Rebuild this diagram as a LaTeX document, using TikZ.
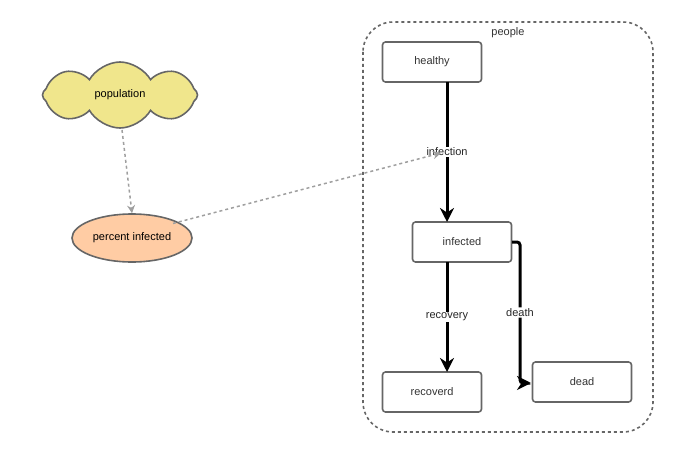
\documentclass[tikz,border=0pt]{standalone}
\usepackage{fontspec}
\setmainfont{Liberation Sans}
\usetikzlibrary{shapes.symbols,shapes.geometric,arrows.meta}
\definecolor{edge}{HTML}{666666}
\begin{document}
\begin{tikzpicture}[x=1pt,y=-1pt,font=\fontsize{11}{13}\selectfont,
  box/.style={draw=edge,rounded corners=3pt,line width=1.6pt,minimum width=99pt,minimum height=40pt,inner sep=0pt,text=black!80},
  flow/.style={line width=3pt,-{Stealth[length=14pt,width=14pt]}},
  lbl/.style={fill=white,inner sep=1pt,text=black!85},
  link/.style={dashed,gray!75,line width=1.5pt,-{Stealth[length=8pt,width=8pt]}}]
\useasboundingbox (0,0) rectangle (684,454);
\draw[dashed,edge,line width=1.6pt,rounded corners=30pt] (363,22) rectangle (653,432);
\node[text=black!80] (lab) at (508,33) {people};
\node[box] (h) at (432,62) {healthy};
\node[box] (i) at (462,242) {infected};
\node[box] (r) at (432,392) {recoverd};
\node[box] (d) at (582,382) {dead};
\coordinate (hb) at (447,82);
\coordinate (it) at (447,222);
\coordinate (ib) at (447,262);
\coordinate (rt) at (447,372);
\coordinate (ir) at (512,242);
\coordinate (de) at (531,383);
\draw[flow] (hb) -- node[lbl] (inf) {infection} (it);
\draw[flow] (ib) -- node[lbl] {recovery} (rt);
\draw[flow,rounded corners=3pt] (ir) -- (520,242) -- node[lbl] {death} (520,383) -- (de);
\node[cloud,cloud puffs=8,cloud puff arc=120,aspect=2.4,draw=edge,line width=1.6pt,fill={rgb,255:red,240;green,230;blue,140},minimum width=155pt,minimum height=66pt,inner sep=0pt] (pop) at (120,95) {population};
\node[ellipse,draw=edge,line width=1.6pt,fill={rgb,255:red,255;green,204;blue,164},minimum width=120pt,minimum height=48pt,inner sep=0pt] (pi) at (132,238) {percent infected};
\coordinate (tgt) at (441,153);
\draw[link] (122,130) -- (pi.north);
\draw[link] (pi.north east) ++(-2,3) -- (tgt);
\end{tikzpicture}
\end{document}
